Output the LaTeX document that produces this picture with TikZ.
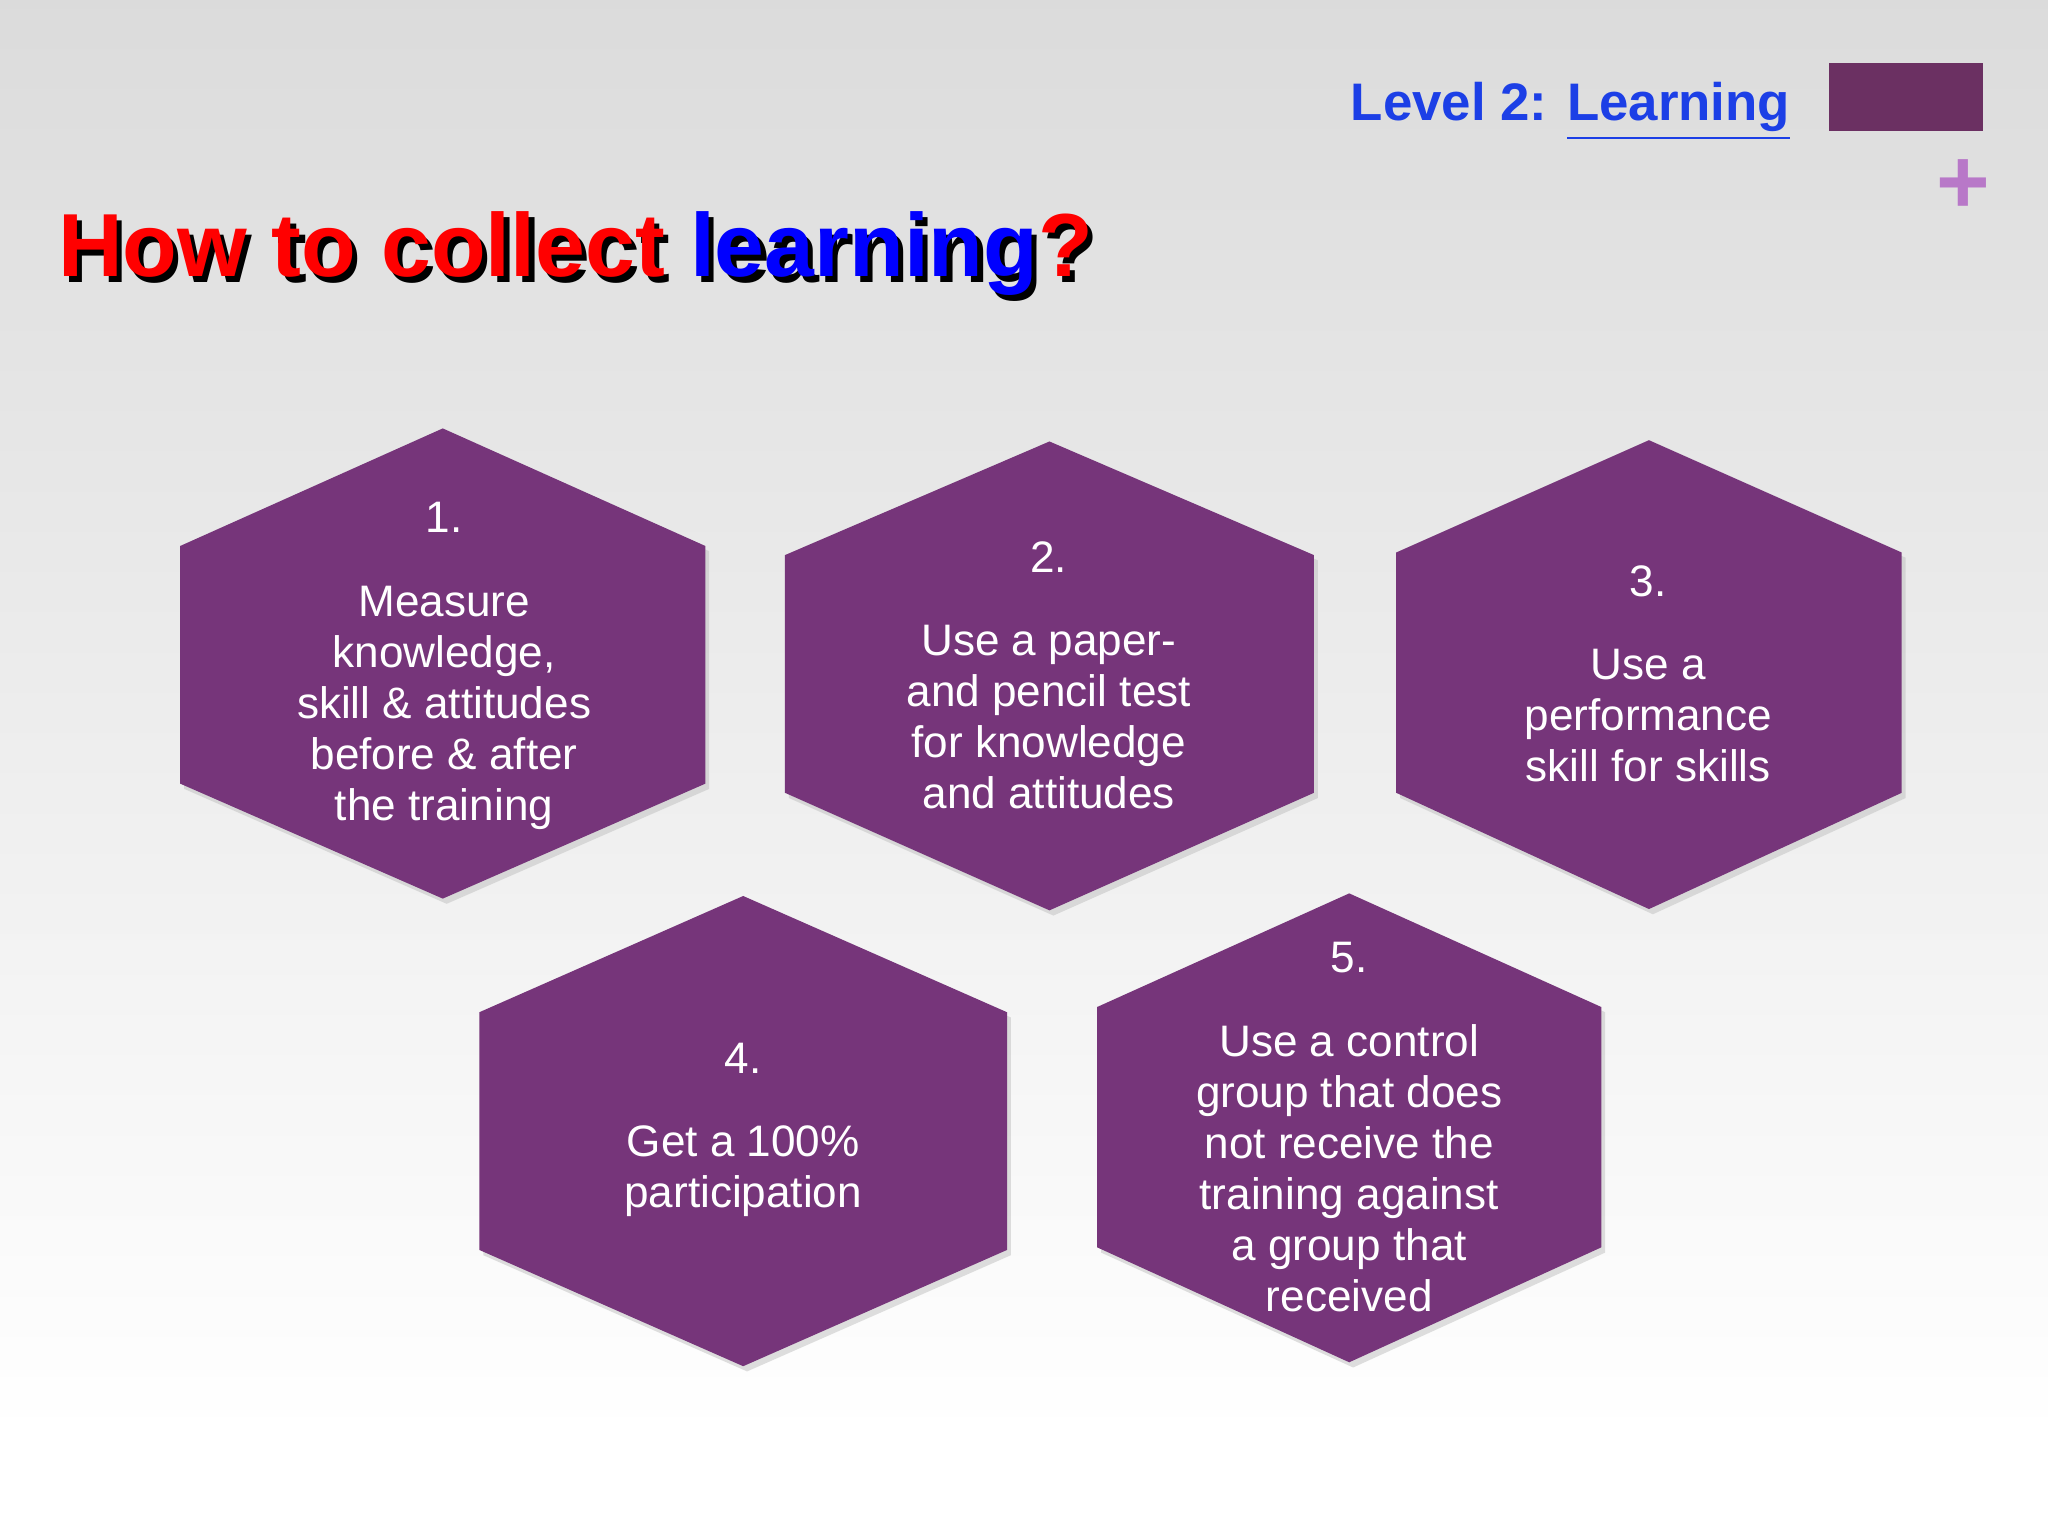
\documentclass[tikz,border=0pt]{standalone}
\usepackage{fontspec}
\setmainfont{Liberation Sans}
\definecolor{hexp}{HTML}{76357A}
\definecolor{lvlblue}{HTML}{1C3FE6}
\definecolor{boxp}{HTML}{6B3062}
\definecolor{plusp}{HTML}{B878C8}
\newcommand\hexa[6]{%
 \fill[black!25,opacity=0.5] ({(#1+#2)/2+3},#3+4) -- (#2+3,#4+4) -- (#2+3,#5+4) -- ({(#1+#2)/2+3},#6+4) -- (#1+3,#5+4) -- (#1+3,#4+4) -- cycle;
 \fill[hexp] ({(#1+#2)/2},#3) -- (#2,#4) -- (#2,#5) -- ({(#1+#2)/2},#6) -- (#1,#5) -- (#1,#4) -- cycle;}
\tikzset{hextext/.style={text=white,align=center,font=\fontsize{9.6}{11.1}\selectfont}}
\begin{document}
\begin{tikzpicture}[x=0.01cm,y=-0.01cm]
\shade[top color=black!14,bottom color=white] (0,0) rectangle (1568,1100);
\fill[white] (0,1099) rectangle (1568,1176);
\useasboundingbox (0,0) rectangle (1568,1176);
% header
\node[anchor=base east,text=lvlblue,font=\fontsize{11.5}{13}\selectfont\bfseries] (lvl) at (1383,92) {Level 2: \underline{Learning}};
\fill[boxp] (1400,48) rectangle (1518,100);
\node[text=plusp,font=\fontsize{20}{20}\selectfont\bfseries] (plus) at (1503,143) {+};
% title
\node[anchor=base west,font=\fontsize{19.5}{22}\selectfont\bfseries,text=black] at (36,216) {How to collect learning?};
\node[anchor=base west,font=\fontsize{19.5}{22}\selectfont\bfseries] (title) at (32,212) {\textcolor{red}{How to collect} \textcolor{blue}{learning}\textcolor{red}{?}};
% hexagons
\hexa{138}{540}{328}{418}{600}{688}
\hexa{601}{1006}{338}{425}{607}{697}
\hexa{1069}{1456}{337}{423}{607}{696}
\hexa{367}{771}{686}{775}{957}{1046}
\hexa{840}{1226}{684}{771}{955}{1043}
\node[hextext] (h1) at (340,510) {1.\\[2.5mm] Measure\\knowledge,\\skill \& attitudes\\before \& after\\the training};
\node[hextext] (h2) at (803,517) {2.\\[2.5mm] Use a paper-\\and pencil test\\for knowledge\\and attitudes};
\node[hextext] (h3) at (1262,516) {3.\\[2.5mm] Use a\\performance\\skill for skills};
\node[hextext] (h4) at (569,865) {4.\\[2.5mm] Get a 100\%\\participation};
\node[hextext] (h5) at (1033,863) {5.\\[2.5mm] Use a control\\group that does\\not receive the\\training against\\a group that\\received};
\end{tikzpicture}
\end{document}
